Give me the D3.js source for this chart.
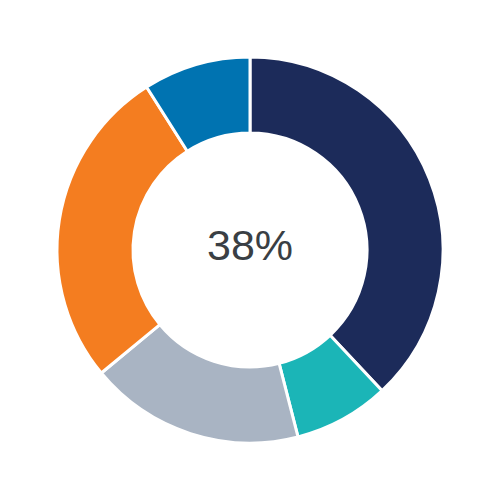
<!DOCTYPE html>
<html>
<head>
<meta charset="utf-8">
<script src="https://cdn.jsdelivr.net/npm/d3@7"></script>
<style>
  body { margin: 0; background: #fff; }
</style>
</head>
<body>
<div id="chart-area"></div>
<script>
// DATA
var categories = ['A', 'B', 'C', 'D', 'E'];
var values = [38, 8, 18, 27, 9];
var colors = ['#1c2b5a', '#1bb5b7', '#a9b4c3', '#f47d20', '#0073b1'];
var centerLabel = '38%';

var width = 500, height = 500;
var outerR = 193, innerR = 117;

var svg = d3.select('#chart-area')
    .append('svg')
        .attr('width', width)
        .attr('height', height);

var g = svg.append('g')
    .attr('transform', 'translate(' + width / 2 + ',' + height / 2 + ')');

var color = d3.scaleOrdinal()
    .domain(categories)
    .range(colors);

var pie = d3.pie()
    .sort(null)
    .value(d => d.value);

var arc = d3.arc()
    .innerRadius(innerR)
    .outerRadius(outerR);

var data = categories.map((c, i) => ({ name: c, value: values[i] }));

g.selectAll('path')
    .data(pie(data))
    .enter()
    .append('path')
        .attr('d', arc)
        .attr('fill', d => color(d.data.name))
        .attr('stroke', '#fff')
        .attr('stroke-width', 3);

// center label
g.append('text')
    .attr('x', 0)
    .attr('y', 10)
    .attr('text-anchor', 'middle')
    .attr('font-family', 'Liberation Sans, Arial, sans-serif')
    .attr('font-size', '43px')
    .attr('fill', '#3a3f44')
    .text(centerLabel);
</script>
</body>
</html>
